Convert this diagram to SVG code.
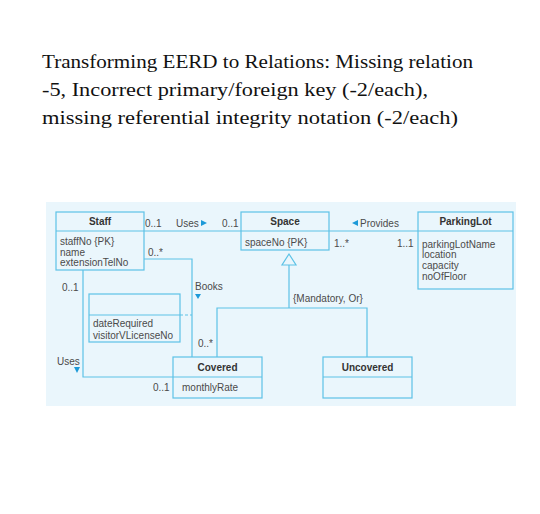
<svg xmlns="http://www.w3.org/2000/svg" width="540" height="514" viewBox="0 0 540 514">
<style>
.title{font-family:"Liberation Serif","Times New Roman",serif;font-size:19.5px;fill:#111}
.t{font-family:"Liberation Sans",Arial,sans-serif;font-size:10px;fill:#4a4a4a}
.h{font-family:"Liberation Sans",Arial,sans-serif;font-size:10px;font-weight:bold;fill:#333;text-anchor:middle}
.box{fill:none;stroke:#5cc2e6;stroke-width:1.2}
.ln{fill:none;stroke:#5cc2e6;stroke-width:1.2}
.dash{fill:none;stroke:#5cc2e6;stroke-width:1.2;stroke-dasharray:3,2}
.arr{fill:#1d9ad8}
</style>
<rect width="540" height="514" fill="#ffffff"/>
<g id="title">
<text class="title" x="42" y="68" textLength="431" lengthAdjust="spacingAndGlyphs">Transforming EERD to Relations: Missing relation</text>
<text class="title" x="42" y="96" textLength="386" lengthAdjust="spacingAndGlyphs">-5, Incorrect primary/foreign key (-2/each),</text>
<text class="title" x="42" y="124" textLength="416" lengthAdjust="spacingAndGlyphs">missing referential integrity notation (-2/each)</text>
</g>
<rect x="46" y="202" width="470" height="204" fill="#eaf6fc"/>
<g id="connectors">
<line class="ln" x1="144" y1="231" x2="241" y2="231"/>
<line class="ln" x1="329" y1="231" x2="418" y2="231"/>
<polyline class="ln" points="144,259 192,259 192,357"/>
<line class="dash" x1="180" y1="315" x2="192" y2="315"/>
<polyline class="ln" points="83,270 83,377 173,377"/>
<polygon points="289,254 282,265 296,265" fill="#eaf6fc" stroke="#5cc2e6" stroke-width="1.2"/>
<line class="ln" x1="289" y1="265" x2="289" y2="308"/>
<polyline class="ln" points="217,357 217,308 367,308 367,357"/>
<text class="t" x="145" y="226.5">0..1</text>
<text class="t" x="176" y="226.5">Uses</text>
<polygon class="arr" points="201,220 207,223 201,226"/>
<text class="t" x="222" y="226.5">0..1</text>
<polygon class="arr" points="358,220 352,223 358,226"/>
<text class="t" x="360" y="226.5">Provides</text>
<text class="t" x="334" y="247">1..*</text>
<text class="t" x="397" y="247">1..1</text>
<text class="t" x="148" y="255.5">0..*</text>
<text class="t" x="195" y="290">Books</text>
<polygon class="arr" points="195,294 201,294 198,299"/>
<text class="t" x="293" y="302">{Mandatory, Or}</text>
<text class="t" x="62" y="290.5">0..1</text>
<text class="t" x="57" y="365">Uses</text>
<polygon class="arr" points="74,367 80,367 77,373"/>
<text class="t" x="153" y="390.5">0..1</text>
<text class="t" x="198" y="347">0..*</text>
</g>
<g id="Staff">
<rect class="box" x="56" y="212" width="88" height="58"/>
<line class="ln" x1="56" y1="231" x2="144" y2="231"/>
<text class="h" x="100" y="225">Staff</text>
<text class="t" x="60" y="245">staffNo {PK}</text>
<text class="t" x="60" y="255.5">name</text>
<text class="t" x="60" y="266">extensionTelNo</text>
</g>
<g id="Space">
<rect class="box" x="241" y="212" width="88" height="38"/>
<line class="ln" x1="241" y1="231" x2="329" y2="231"/>
<text class="h" x="285" y="225">Space</text>
<text class="t" x="245" y="246">spaceNo {PK}</text>
</g>
<g id="ParkingLot">
<rect class="box" x="418" y="212" width="95" height="77"/>
<line class="ln" x1="418" y1="231" x2="513" y2="231"/>
<text class="h" x="465.5" y="225">ParkingLot</text>
<text class="t" x="422" y="247.5">parkingLotName</text>
<text class="t" x="422" y="258.2">location</text>
<text class="t" x="422" y="268.9">capacity</text>
<text class="t" x="422" y="279.6">noOfFloor</text>
</g>
<g id="BookedSpace">
<rect class="box" x="89" y="294" width="91" height="48"/>
<line class="ln" x1="89" y1="315" x2="180" y2="315"/>
<text class="t" x="93" y="327">dateRequired</text>
<text class="t" x="93" y="338.5">visitorVLicenseNo</text>
</g>
<g id="Covered">
<rect class="box" x="173" y="357" width="89" height="41"/>
<line class="ln" x1="173" y1="377" x2="262" y2="377"/>
<text class="h" x="217.5" y="370.5">Covered</text>
<text class="t" x="182" y="391">monthlyRate</text>
</g>
<g id="Uncovered">
<rect class="box" x="323" y="357" width="89" height="41"/>
<line class="ln" x1="323" y1="377" x2="412" y2="377"/>
<text class="h" x="367.5" y="370.5">Uncovered</text>
</g>
</svg>
